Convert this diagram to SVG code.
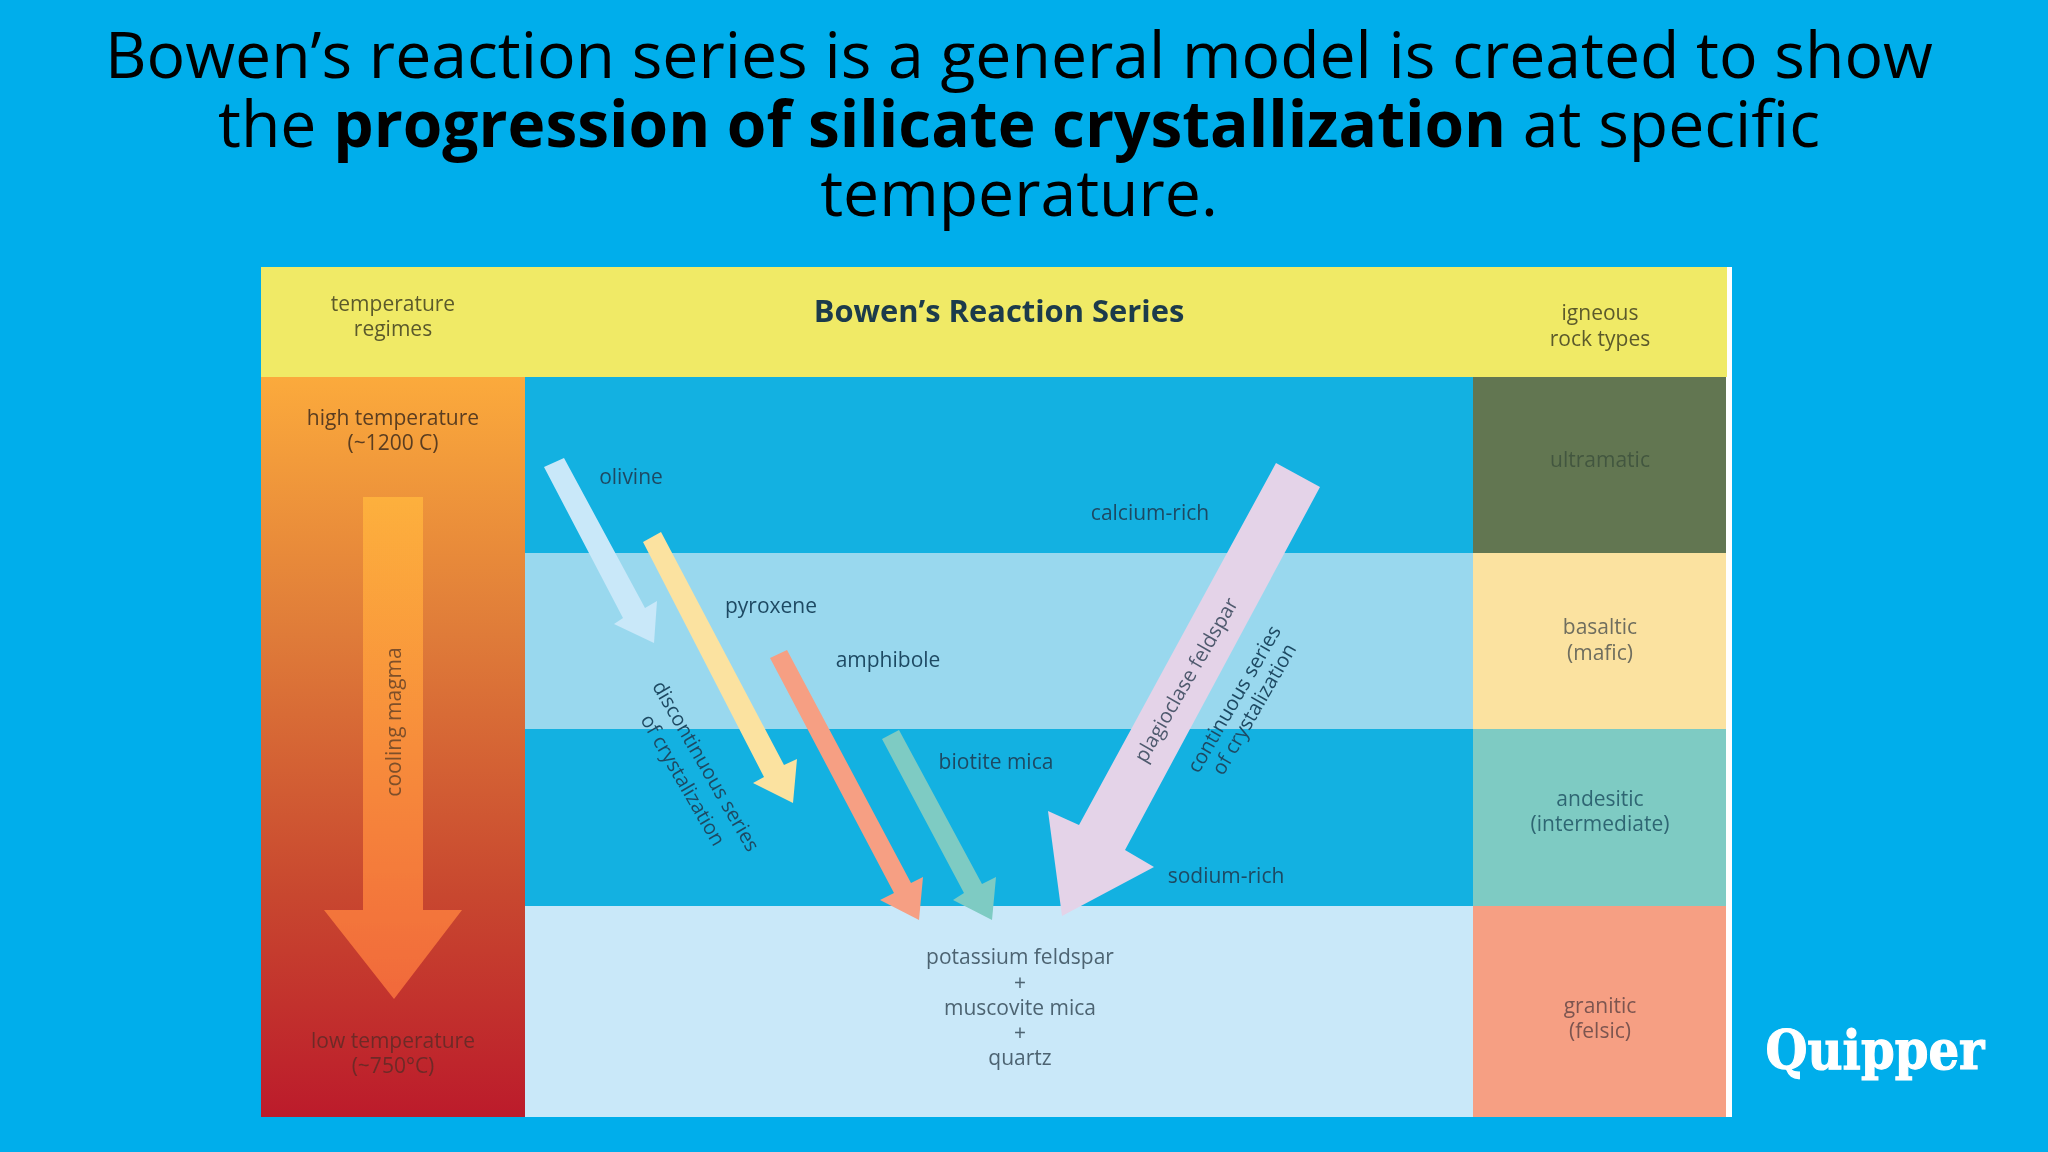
<svg xmlns="http://www.w3.org/2000/svg" width="2048" height="1152" viewBox="0 0 2048 1152">
<defs>
<linearGradient id="heat" x1="0" y1="0" x2="0" y2="1"><stop offset="0" stop-color="#fbaa3c"/><stop offset="0.35" stop-color="#df7b39"/><stop offset="0.7" stop-color="#c8472f"/><stop offset="1" stop-color="#bc1b2b"/></linearGradient>
<linearGradient id="cool" gradientUnits="userSpaceOnUse" x1="0" y1="497" x2="0" y2="999"><stop offset="0" stop-color="#fdb03c"/><stop offset="1" stop-color="#f1693a"/></linearGradient>
<filter id="soft" x="-5%" y="-5%" width="110%" height="110%"><feGaussianBlur stdDeviation="0.5"/></filter>
</defs>
<style>
text{font-family:"Open Sans","Noto Sans","Liberation Sans",sans-serif;text-anchor:middle}
.title{font-size:64.3px;fill:#000}
.t{font-size:21px;fill:#1f4a63}
.r{font-size:20.2px}
.d{fill:#5b5a2c}
.soft{filter:url(#soft)}
</style>
<rect width="2048" height="1152" fill="#00aeeb"/>
<g id="title">
<text class="title" x="1019" y="78">Bowen’s reaction series is a general model is created to show</text>
<text class="title" x="1019" y="147">the <tspan font-weight="700" font-size="64">progression of silicate crystallization</tspan> at specific</text>
<text class="title" x="1019" y="216">temperature.</text>
</g>
<g id="panel">
<rect x="261" y="267" width="1471" height="850" fill="#fff"/>
<rect x="261" y="267" width="1466" height="110" fill="#f0ea66"/>
<rect x="261" y="377" width="264" height="740" fill="url(#heat)"/>
<rect x="525" y="377" width="948" height="176" fill="#13b1e1"/>
<rect x="525" y="553" width="948" height="176" fill="#99d8ee"/>
<rect x="525" y="729" width="948" height="177" fill="#13b1e1"/>
<rect x="525" y="906" width="948" height="211" fill="#c9e8f9"/>
</g>
<g id="node-ultramafic"><rect x="1473" y="377" width="253" height="176" fill="#627651"/><text class="t soft" style="fill:#43573f" x="1600" y="467">ultramatic</text></g>
<g id="node-basaltic"><rect x="1473" y="553" width="253" height="176" fill="#fbe2a0"/><text class="t soft" style="fill:#6f6e5e" x="1600" y="634">basaltic</text><text class="t soft" style="fill:#6f6e5e" x="1600" y="660">(mafic)</text></g>
<g id="node-andesitic"><rect x="1473" y="729" width="253" height="177" fill="#7ecbc3"/><text class="t soft" style="fill:#2f6673" x="1600" y="806">andesitic</text><text class="t soft" style="fill:#2f6673" x="1600" y="831">(intermediate)</text></g>
<g id="node-granitic"><rect x="1473" y="906" width="253" height="211" fill="#f69f83"/><text class="t soft" style="fill:#7c5550" x="1600" y="1013">granitic</text><text class="t soft" style="fill:#7c5550" x="1600" y="1038">(felsic)</text></g>
<g id="headers" class="soft">
<text class="t d" x="393" y="311">temperature</text><text class="t d" x="393" y="336">regimes</text>
<text x="999" y="322" style="font-size:30.9px;font-weight:700;fill:#1d3a4c">Bowen’s Reaction Series</text>
<text class="t d" x="1600" y="320">igneous</text><text class="t d" x="1600" y="346">rock types</text>
</g>
<g id="connectors" class="soft">
<polygon fill="url(#cool)" points="363,497 423,497 423,910 462,910 394,999 324,910 363,910"/>
<polygon fill="#c9e8f9" points="544,467 564,458 645,608 657,601 654,643 614,624 623,618"/>
<polygon fill="#fbe2a0" points="643,542 661,532 784,765 797,759 793,803 753,783 764,777"/>
<polygon fill="#f69f83" points="770,658 787,650 911,883 923,877 919,920 880,900 894,893"/>
<polygon fill="#7ecbc3" points="882,739 899,730 982,884 996,877 992,920 953,900 964,893"/>
<polygon fill="#e4d3e8" points="1276,463 1320,487 1125,850 1154,867 1062,916 1048,811 1079,825"/>
</g>
<g id="labels" class="soft">
<text class="t" style="fill:#5a3d20" x="393" y="425">high temperature</text><text class="t" style="fill:#5a3d20" x="393" y="450">(~1200 C)</text>
<text class="t" style="fill:#6e2a28" x="393" y="1048">low temperature</text><text class="t" style="fill:#6e2a28" x="393" y="1073">(~750°C)</text>
<text class="t" style="fill:#7d4f2a" transform="translate(394 722) rotate(-90)" y="7">cooling magma</text>
<text class="t" x="631" y="484">olivine</text>
<text class="t" x="771" y="613">pyroxene</text>
<text class="t" x="888" y="667">amphibole</text>
<text class="t" x="996" y="769">biotite mica</text>
<text class="t" x="1150" y="520">calcium-rich</text>
<text class="t" x="1226" y="883">sodium-rich</text>
<text class="t r" style="fill:#4f5a6e" transform="translate(1186 680) rotate(-60)" y="7">plagioclase feldspar</text>
<text class="t r" transform="translate(1234 699) rotate(-60)" y="7">continuous series</text>
<text class="t r" transform="translate(1254 709) rotate(-60)" y="7">of crystalization</text>
<text class="t r" transform="translate(706 766) rotate(60)" y="7">discontinuous series</text>
<text class="t r" transform="translate(683 780) rotate(60)" y="7">of crystalization</text>
<text class="t" style="fill:#4d6472" x="1020" y="964">potassium feldspar</text>
<text class="t" style="fill:#4d6472" x="1020" y="990">+</text>
<text class="t" style="fill:#4d6472" x="1020" y="1015">muscovite mica</text>
<text class="t" style="fill:#4d6472" x="1020" y="1040">+</text>
<text class="t" style="fill:#4d6472" x="1020" y="1065">quartz</text>
</g>
<g id="logo"><text x="1875" y="1069" style="font-family:'DejaVu Serif',serif;font-weight:700;font-size:54px;fill:#fff;stroke:#fff;stroke-width:1.2px" textLength="219" lengthAdjust="spacingAndGlyphs">Quipper</text></g>
</svg>
